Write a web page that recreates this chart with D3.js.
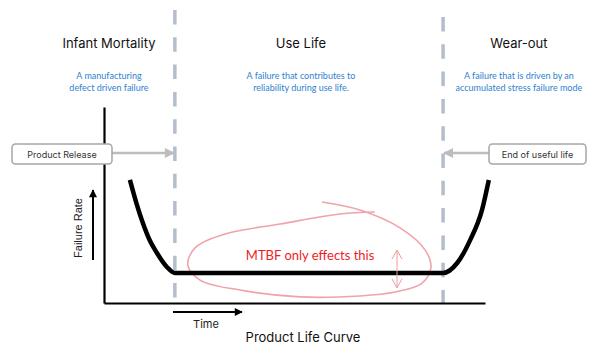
<!DOCTYPE html>
<html>
<head>
<meta charset="utf-8">
<script src="https://cdn.jsdelivr.net/npm/d3@7"></script>
<style>
  body { margin: 0; background: #fff; }
  svg { display: block; }
</style>
</head>
<body>
<svg id="chart" width="604" height="354"></svg>
<script>
// phases of the life curve
var phaseTitles = ['Infant Mortality', 'Use Life', 'Wear-out'];
var phaseCenters = [1.3, 51.7, 108.9];
var phaseNotes = [
    ['A manufacturing', 'defect driven failure'],
    ['A failure that contributes to', 'reliability during use life.'],
    ['A failure that is driven by an', 'accumulated stress failure mode']
];

// phase boundaries (time)
var boundaries = [18.6, 89];
var boundaryLabels = ['Product Release', 'End of useful life'];

// bathtub curve (time, failure rate)
var curveTime = [6.8, 8.5, 10.2, 12, 13.9, 16.5, 18.6, 89, 92.7, 96.1, 99.2, 101];
var curveRate = [62.8, 51, 40.8, 32, 25.5, 18.4, 15.3, 15.3, 20.4, 32.1, 47.4, 62.8];

// hand drawn loop around the flat part
var loopTime = [57.2, 67.2, 77.7, 84.3, 85.8, 83.5, 76.4, 67.2, 51.4, 35.7, 25.2, 22.0, 23.9, 31.8, 46.2, 61.9, 71.1];
var loopRate = [51.5, 47.4, 38.3, 27.0, 17.9, 10.2, 5.6, 3.6, 3.1, 6.6, 11.7, 19.4, 28.1, 35.2, 40.3, 45.4, 46.4];
var mtbfArrow = { time: 76.9, from: 7.7, to: 27 };

var svg = d3.select('#chart');
var x = d3.scaleLinear().domain([0, 100]).range([104, 485]);
var y = d3.scaleLinear().domain([0, 100]).range([303, 107]);

var defs = svg.append('defs');
function marker(id, color, w, h) {
    defs.append('marker')
        .attr('id', id)
        .attr('viewBox', '0 0 10 10')
        .attr('refX', 9).attr('refY', 5)
        .attr('markerUnits', 'userSpaceOnUse')
        .attr('markerWidth', w).attr('markerHeight', h)
        .attr('orient', 'auto')
        .append('path')
        .attr('d', 'M0,0L10,5L0,10Z')
        .attr('fill', color);
}
marker('blackHead', '#000', 9, 8);
marker('grayHead', '#bdbdbd', 11, 10);

// phase titles and notes
svg.selectAll('.title').data(phaseTitles).enter().append('text')
    .attr('class', 'title')
    .attr('x', (d, i) => x(phaseCenters[i]))
    .attr('y', 48)
    .attr('text-anchor', 'middle')
    .style('font-family', 'Inter, sans-serif')
    .style('font-size', '13px')
    .attr('fill', '#111')
    .text(d => d);

phaseNotes.forEach((lines, i) => {
    svg.selectAll('.note' + i).data(lines).enter().append('text')
        .attr('x', x(phaseCenters[i]))
        .attr('y', (d, j) => 79 + j * 12)
        .attr('text-anchor', 'middle')
        .style('font-family', 'Lato, sans-serif')
        .style('font-size', '9px')
        .attr('fill', '#2f7fd1')
        .text(d => d);
});

// dashed phase boundaries
svg.selectAll('.boundary').data(boundaries).enter().append('line')
    .attr('x1', d => x(d)).attr('x2', d => x(d))
    .attr('y1', (d, i) => i === 0 ? 10 : 17)
    .attr('y2', (d, i) => i === 0 ? 298 : 303)
    .attr('stroke', '#b4bdcc')
    .attr('stroke-width', 3.5)
    .attr('stroke-dasharray', '14.5 12.8');

// axes
var xAxis = svg.append('g')
    .attr('transform', 'translate(0,' + y(0) + ')')
    .call(d3.axisBottom(x).ticks(0).tickSizeOuter(0));
var yAxis = svg.append('g')
    .attr('transform', 'translate(' + x(0) + ',0)')
    .call(d3.axisLeft(y).ticks(0).tickSizeOuter(0));
[xAxis, yAxis].forEach(g => g.select('.domain').attr('stroke', '#000').attr('stroke-width', 2.2));

// hand drawn loop
var loopPts = loopTime.map((t, i) => [t, loopRate[i]]);
svg.append('path')
    .datum(loopPts)
    .attr('d', d3.line().x(d => x(d[0])).y(d => y(d[1])).curve(d3.curveCatmullRom))
    .attr('fill', 'none')
    .attr('stroke', '#e8707c')
    .attr('stroke-width', 1.6)
    .attr('stroke-opacity', 0.65);

// bathtub curve
var curvePts = curveTime.map((t, i) => [t, curveRate[i]]);
svg.append('path')
    .datum(curvePts)
    .attr('d', d3.line().x(d => x(d[0])).y(d => y(d[1])).curve(d3.curveMonotoneX))
    .attr('fill', 'none')
    .attr('stroke', '#000')
    .attr('stroke-width', 4.5)
    .attr('stroke-linejoin', 'round');

// MTBF text and thin double arrow
svg.append('text')
    .attr('x', x(54.1))
    .attr('y', 260)
    .attr('text-anchor', 'middle')
    .style('font-family', 'Lato, sans-serif')
    .style('font-size', '13px')
    .attr('fill', '#ee1c25')
    .text('MTBF only effects this');

var ax = x(mtbfArrow.time), ay1 = y(mtbfArrow.to), ay2 = y(mtbfArrow.from);
svg.append('path')
    .attr('d', 'M' + ax + ',' + ay1 + 'L' + ax + ',' + ay2 +
        'M' + (ax - 5) + ',' + (ay1 + 9) + 'L' + ax + ',' + ay1 + 'L' + (ax + 5) + ',' + (ay1 + 9) +
        'M' + (ax - 5) + ',' + (ay2 - 9) + 'L' + ax + ',' + ay2 + 'L' + (ax + 5) + ',' + (ay2 - 9))
    .attr('fill', 'none')
    .attr('stroke', '#ef9aa2')
    .attr('stroke-width', 1);

// boundary callouts
var boxes = [{ x0: 12, x1: 112 }, { x0: 489, x1: 586 }];
boxes.forEach((b, i) => {
    var bx = x(boundaries[i]);
    var from = i === 0 ? b.x1 : b.x0;
    svg.append('line')
        .attr('x1', from).attr('x2', i === 0 ? bx - 1 : bx + 1)
        .attr('y1', 153).attr('y2', 153)
        .attr('stroke', '#bdbdbd')
        .attr('stroke-width', 2.5)
        .attr('marker-end', 'url(#grayHead)');
    svg.append('rect')
        .attr('x', b.x0).attr('y', 144)
        .attr('width', b.x1 - b.x0).attr('height', 20)
        .attr('rx', 3.5)
        .attr('fill', '#fff')
        .attr('stroke', '#a6a6a6')
        .attr('stroke-width', 1.5);
    svg.append('text')
        .attr('x', (b.x0 + b.x1) / 2)
        .attr('y', 157.5)
        .attr('text-anchor', 'middle')
        .style('font-family', 'Inter, sans-serif')
        .style('font-size', '9px')
        .attr('fill', '#333')
        .text(boundaryLabels[i]);
});

// axis arrows and labels
svg.append('line')
    .attr('x1', 93).attr('x2', 93).attr('y1', 260).attr('y2', 190)
    .attr('stroke', '#000').attr('stroke-width', 2)
    .attr('marker-end', 'url(#blackHead)');
svg.append('text')
    .attr('transform', 'translate(82,228) rotate(-90)')
    .attr('text-anchor', 'middle')
    .style('font-family', 'Liberation Sans, Arial, sans-serif')
    .style('font-size', '11px')
    .attr('fill', '#222')
    .text('Failure Rate');

svg.append('line')
    .attr('x1', 173).attr('x2', 242).attr('y1', 312).attr('y2', 312)
    .attr('stroke', '#000').attr('stroke-width', 2)
    .attr('marker-end', 'url(#blackHead)');
svg.append('text')
    .attr('x', 206).attr('y', 328)
    .attr('text-anchor', 'middle')
    .style('font-family', 'Inter, sans-serif')
    .style('font-size', '11px')
    .attr('fill', '#222')
    .text('Time');

svg.append('text')
    .attr('x', 303).attr('y', 342)
    .attr('text-anchor', 'middle')
    .style('font-family', 'Inter, sans-serif')
    .style('font-size', '13px')
    .attr('fill', '#111')
    .text('Product Life Curve');
</script>
</body>
</html>
